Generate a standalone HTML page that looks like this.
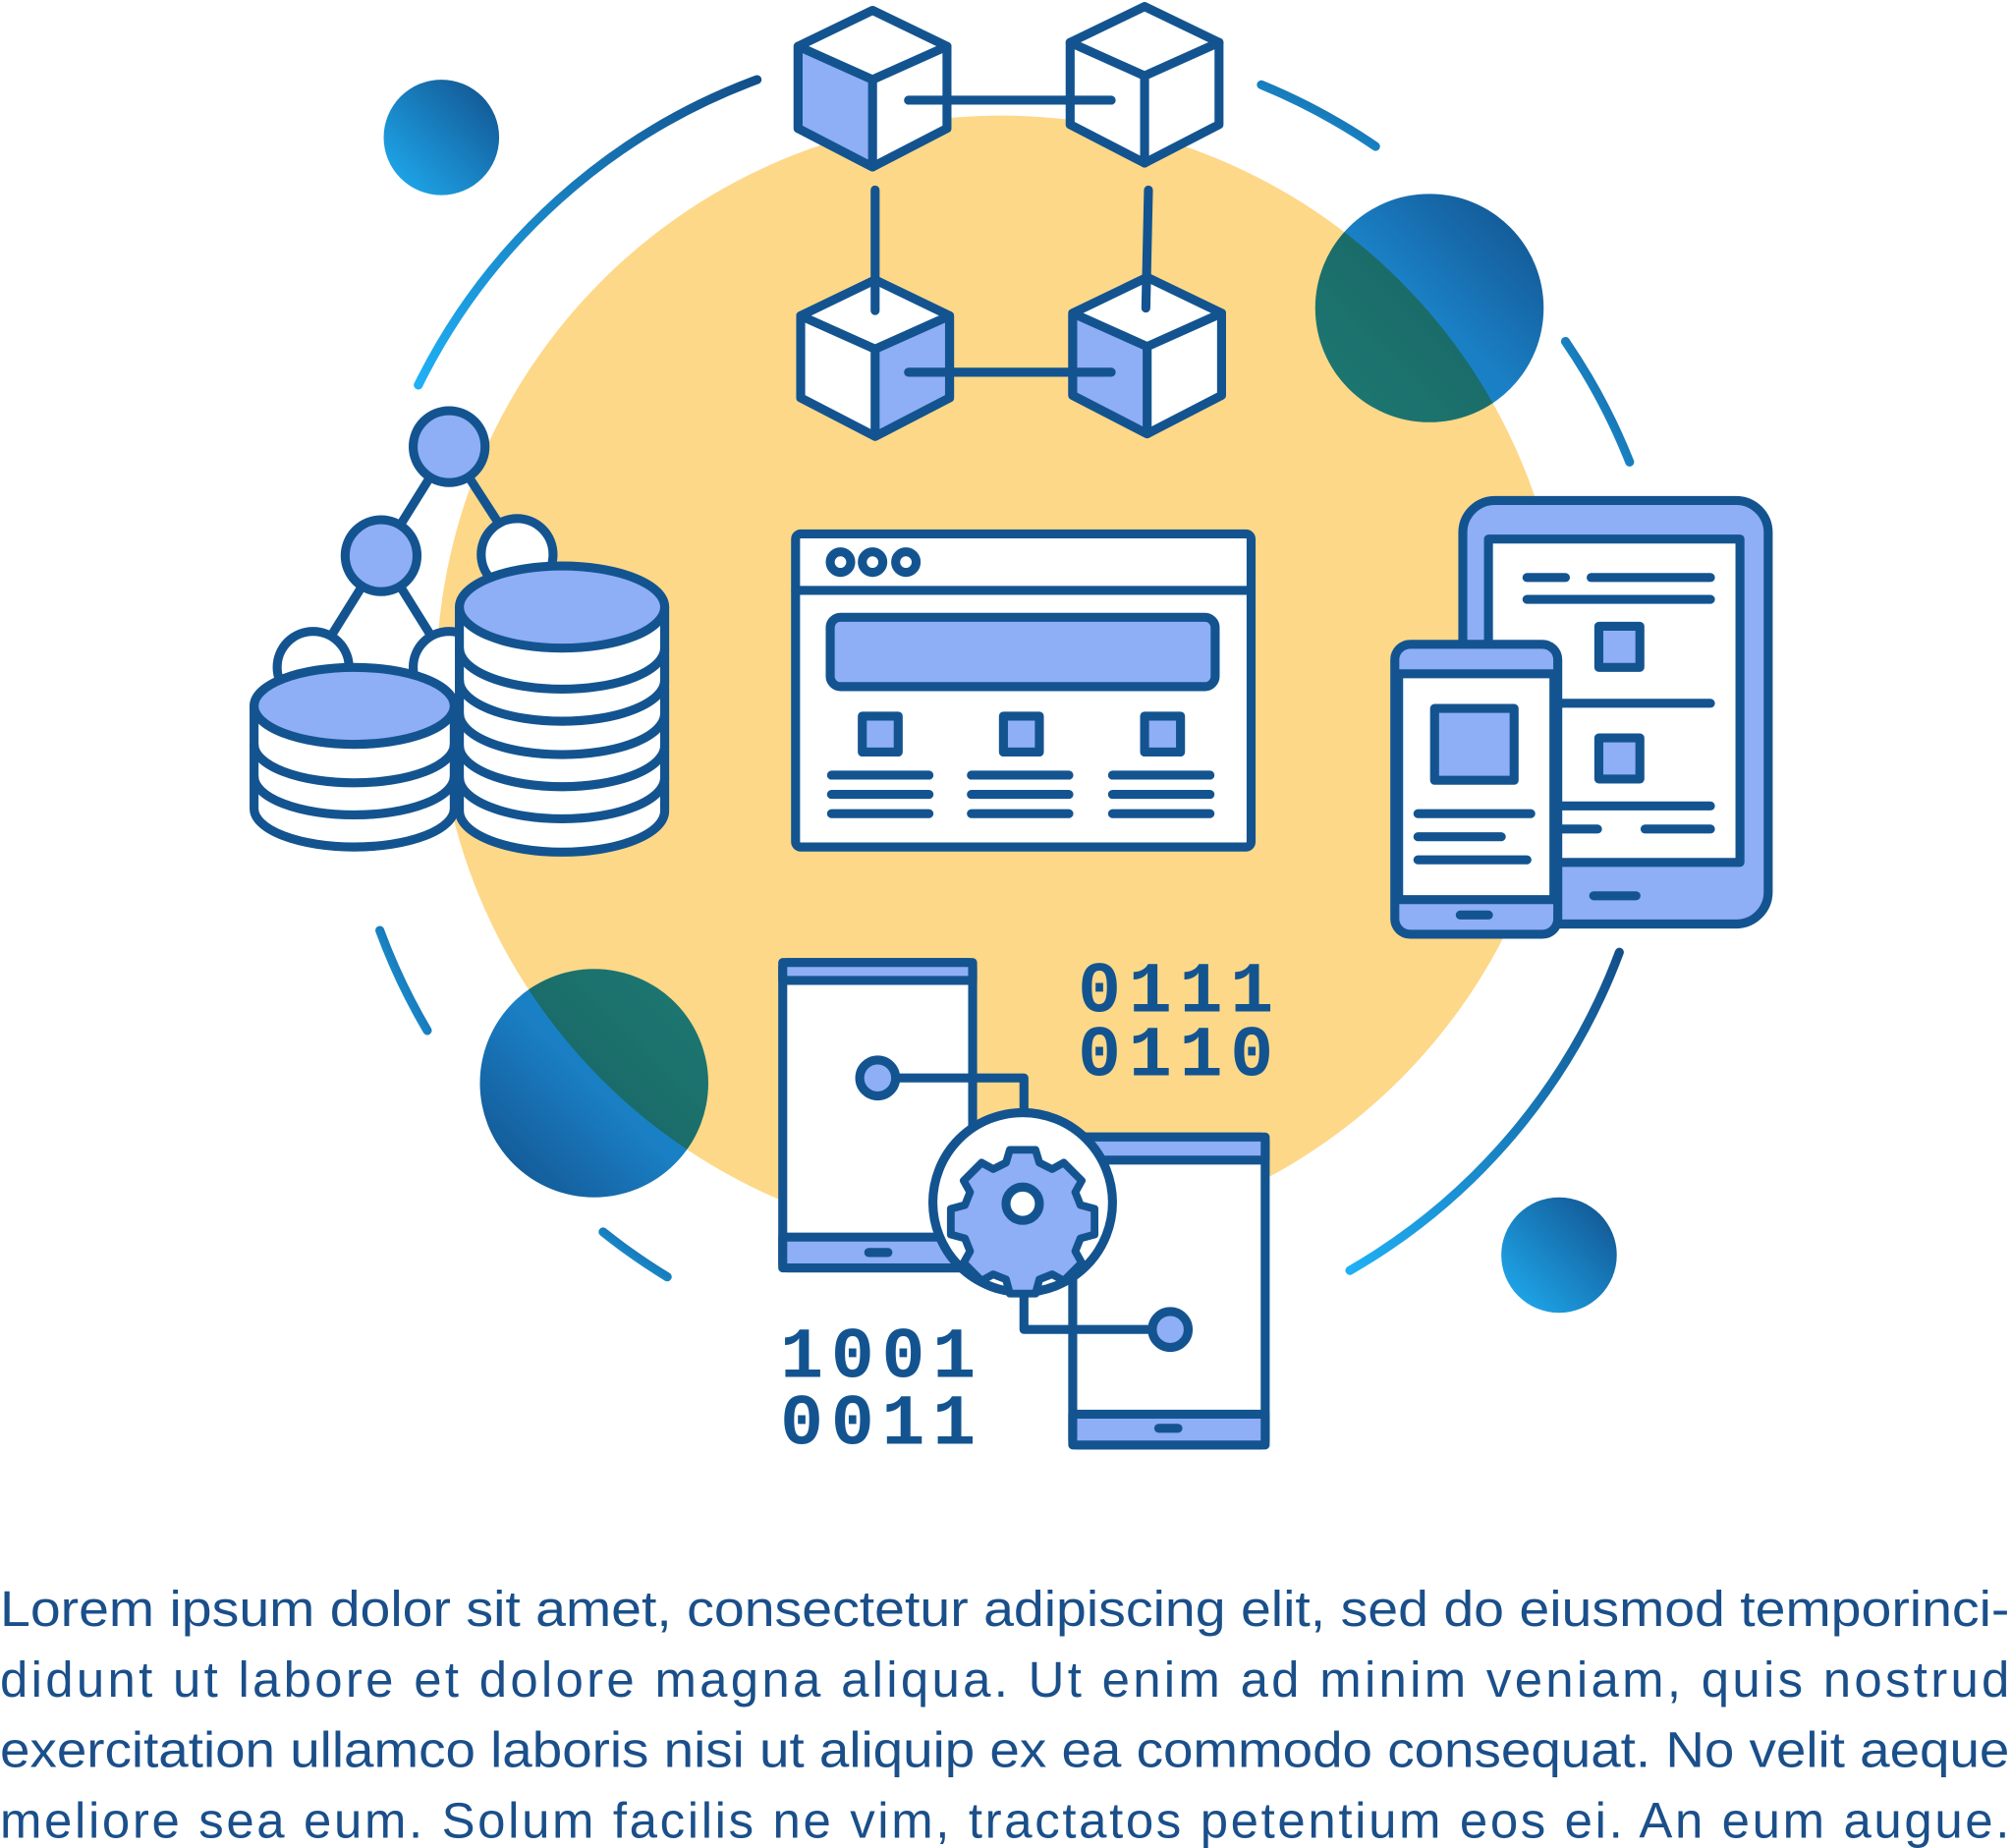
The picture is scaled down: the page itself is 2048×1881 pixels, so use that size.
<!DOCTYPE html>
<html><head><meta charset="utf-8"><style>
html,body{margin:0;padding:0;background:#fff;}
svg{display:block;}
.mb{mix-blend-mode:multiply;}
</style></head><body>
<svg width="2048" height="1881" viewBox="0 0 1568 1440" xmlns="http://www.w3.org/2000/svg">
<defs>
<linearGradient id="gs" x1="0" y1="1" x2="1" y2="0"><stop offset="0" stop-color="#1fb0f5"/><stop offset="1" stop-color="#124f8a"/></linearGradient>
<linearGradient id="gg1" x1="0" y1="1" x2="1" y2="0"><stop offset="0" stop-color="#1e8fd8"/><stop offset="0.5" stop-color="#1a7fc4"/><stop offset="1" stop-color="#124f8a"/></linearGradient>
<linearGradient id="gg2" x1="0" y1="1" x2="1" y2="0"><stop offset="0" stop-color="#124f8a"/><stop offset="0.5" stop-color="#1a7fc4"/><stop offset="1" stop-color="#1e8fd8"/></linearGradient>
<linearGradient id="arc" x1="0" y1="1" x2="1" y2="0"><stop offset="0" stop-color="#1fb0f5"/><stop offset="1" stop-color="#124f8a"/></linearGradient>
</defs>
<circle cx="780" cy="530" r="440" fill="#fdd888"/>
<g fill="none" stroke="url(#arc)" stroke-width="7" stroke-linecap="round">
<path d="M590 62 A480 480 0 0 0 326 300"/>
<path d="M983 66 A480 480 0 0 1 1072 114"/>
<path d="M1220 266 A480 480 0 0 1 1270 360"/>
<path d="M1262 742 A480 480 0 0 1 1052 990"/>
<path d="M520 995 A480 480 0 0 1 470 960"/>
<path d="M333 803 A480 480 0 0 1 296 725"/>
</g>
<circle cx="344" cy="107" r="45" fill="url(#gs)"/>
<circle cx="1215" cy="978" r="45" fill="url(#gs)"/>
<circle class="mb" cx="1114" cy="240" r="89" fill="url(#gg1)"/>
<circle class="mb" cx="463" cy="844" r="89" fill="url(#gg2)"/>

<g stroke="#135490" stroke-width="7" stroke-linejoin="round" stroke-linecap="round" fill="#fff">
<path d="M680 8 L738 36 L738 100 L680 130 L622 100 L622 36 Z"/>
<path d="M622 36 L680 62 L680 130 L622 100 Z" fill="#8eaef5"/>
<path d="M680 62 L738 36"/>
<path d="M892 5 L950 33 L950 97 L892 127 L834 97 L834 33 Z"/>
<path d="M834 33 L892 59 L950 33 M892 59 L892 127" fill="none"/>
<path d="M682 218 L740 246 L740 310 L682 340 L624 310 L624 246 Z"/>
<path d="M682 272 L740 246 L740 310 L682 340 Z" fill="#8eaef5"/>
<path d="M624 246 L682 272" fill="none"/>
<path d="M894 216 L952 244 L952 308 L894 338 L836 308 L836 244 Z"/>
<path d="M836 244 L894 270 L894 338 L836 308 Z" fill="#8eaef5"/>
<path d="M894 270 L952 244" fill="none"/>
<path d="M708 78 L866 78 M708 290 L866 290 M682 148 L682 242 M895 148 L893 240" fill="none"/>

<path d="M350 348 L297 433 L244 518 M350 348 L403 430 M297 433 L350 518" fill="none"/>
<circle cx="403" cy="432" r="28"/>
<circle cx="244" cy="520" r="28"/>
<circle cx="350" cy="520" r="28"/>
<circle cx="350" cy="348" r="28" fill="#8eaef5"/>
<circle cx="297" cy="433" r="28" fill="#8eaef5"/>
<path d="M198 550 L198 630 A78 30 0 0 0 354 630 L354 550 Z"/>
<path d="M198 580 A78 30 0 0 0 354 580 M198 605 A78 30 0 0 0 354 605" fill="none"/>
<ellipse cx="276" cy="550" rx="78" ry="30" fill="#8eaef5"/>
<path d="M358 473 L358 632 A80 32 0 0 0 518 632 L518 473 Z"/>
<path d="M358 505 A80 32 0 0 0 518 505 M358 530 A80 32 0 0 0 518 530 M358 556 A80 32 0 0 0 518 556 M358 581 A80 32 0 0 0 518 581 M358 606 A80 32 0 0 0 518 606" fill="none"/>
<ellipse cx="438" cy="473" rx="80" ry="32" fill="#8eaef5"/>

<rect x="620" y="416" width="355" height="244" rx="4"/>
<path d="M620 460 L975 460" fill="none"/>
<circle cx="655" cy="438" r="8"/><circle cx="680" cy="438" r="8"/><circle cx="706" cy="438" r="8"/>
<rect x="647" y="481" width="300" height="54" rx="8" fill="#8eaef5"/>
<rect x="672" y="558" width="28" height="28" fill="#8eaef5"/>
<rect x="782" y="558" width="28" height="28" fill="#8eaef5"/>
<rect x="892" y="558" width="28" height="28" fill="#8eaef5"/>
<path d="M648 604 H724 M648 619 H724 M648 634 H724 M757 604 H833 M757 619 H833 M757 634 H833 M867 604 H943 M867 619 H943 M867 634 H943" fill="none"/>

<rect x="1140" y="390" width="238" height="330" rx="25" fill="#8eaef5"/>
<rect x="1160" y="420" width="196" height="252" fill="#fff"/>
<path d="M1190 450 H1220 M1240 450 H1333 M1190 467 H1333 M1215 548 H1333 M1215 628 H1333 M1215 646 H1245 M1282 646 H1333 M1242 698 H1275" fill="none"/>
<rect x="1246" y="488" width="32" height="32" fill="#8eaef5"/>
<rect x="1246" y="575" width="32" height="32" fill="#8eaef5"/>
<rect x="1087" y="502" width="127" height="226" rx="12" fill="#8eaef5"/>
<rect x="1090" y="525" width="121" height="176" fill="#fff"/>
<rect x="1118" y="552" width="62" height="56" fill="#8eaef5"/>
<path d="M1105 634 H1193 M1105 652 H1170 M1105 670 H1190 M1138 713 H1160" fill="none"/>

<rect x="610" y="750" width="148" height="238" rx="4"/>
<rect x="610" y="750" width="148" height="14" fill="#8eaef5"/>
<rect x="610" y="964" width="148" height="24" fill="#8eaef5"/>
<path d="M677 976 H692" fill="none"/>
<rect x="836" y="886" width="150" height="240" rx="4"/>
<rect x="836" y="886" width="150" height="18" fill="#8eaef5"/>
<rect x="836" y="1102" width="150" height="24" fill="#8eaef5"/>
<path d="M903 1113 H918" fill="none"/>
<path d="M684 840 H798 V870 M798 1005 V1036 H912" fill="none"/>
<circle cx="684" cy="840" r="14" fill="#8eaef5"/>
<circle cx="912" cy="1036" r="14" fill="#8eaef5"/>
<circle cx="797" cy="937" r="70"/>
<path d="M787 896 h20 l3 10 l10 5 l9 -5 l14 14 l-5 9 l4 10 l11 3 v20 l-11 3 l-4 10 l5 9 l-14 14 l-9 -5 l-10 4 l-3 11 h-20 l-3 -11 l-10 -4 l-9 5 l-14 -14 l5 -9 l-4 -10 l-11 -3 v-20 l11 -3 l4 -10 l-5 -9 l14 -14 l9 5 l10 -5 z" fill="#8eaef5" stroke-width="6"/>
<circle cx="797" cy="938" r="13"/>
</g>
<g font-family="Liberation Mono, monospace" font-weight="bold" font-size="56" fill="#135490">
<text x="840" y="788" letter-spacing="6">0111</text>
<text x="840" y="838" letter-spacing="6">0110</text>
<text x="608" y="1073" letter-spacing="6">1001</text>
<text x="608" y="1125" letter-spacing="6">0011</text>
</g>
<g font-family="Liberation Sans, sans-serif" font-size="39" fill="#1a4f8a">
<text x="0" y="1267" textLength="1566" lengthAdjust="spacingAndGlyphs">Lorem ipsum dolor sit amet, consectetur adipiscing elit, sed do eiusmod temporinci-</text>
<text x="0" y="1322" textLength="1566" lengthAdjust="spacing">didunt ut labore et dolore magna aliqua. Ut enim ad minim veniam, quis nostrud</text>
<text x="0" y="1377" textLength="1566" lengthAdjust="spacingAndGlyphs">exercitation ullamco laboris nisi ut aliquip ex ea commodo consequat. No velit aeque</text>
<text x="0" y="1432" textLength="1566" lengthAdjust="spacing">meliore sea eum. Solum facilis ne vim, tractatos petentium eos ei. An eum augue.</text>
</g>
</svg>
</body></html>
